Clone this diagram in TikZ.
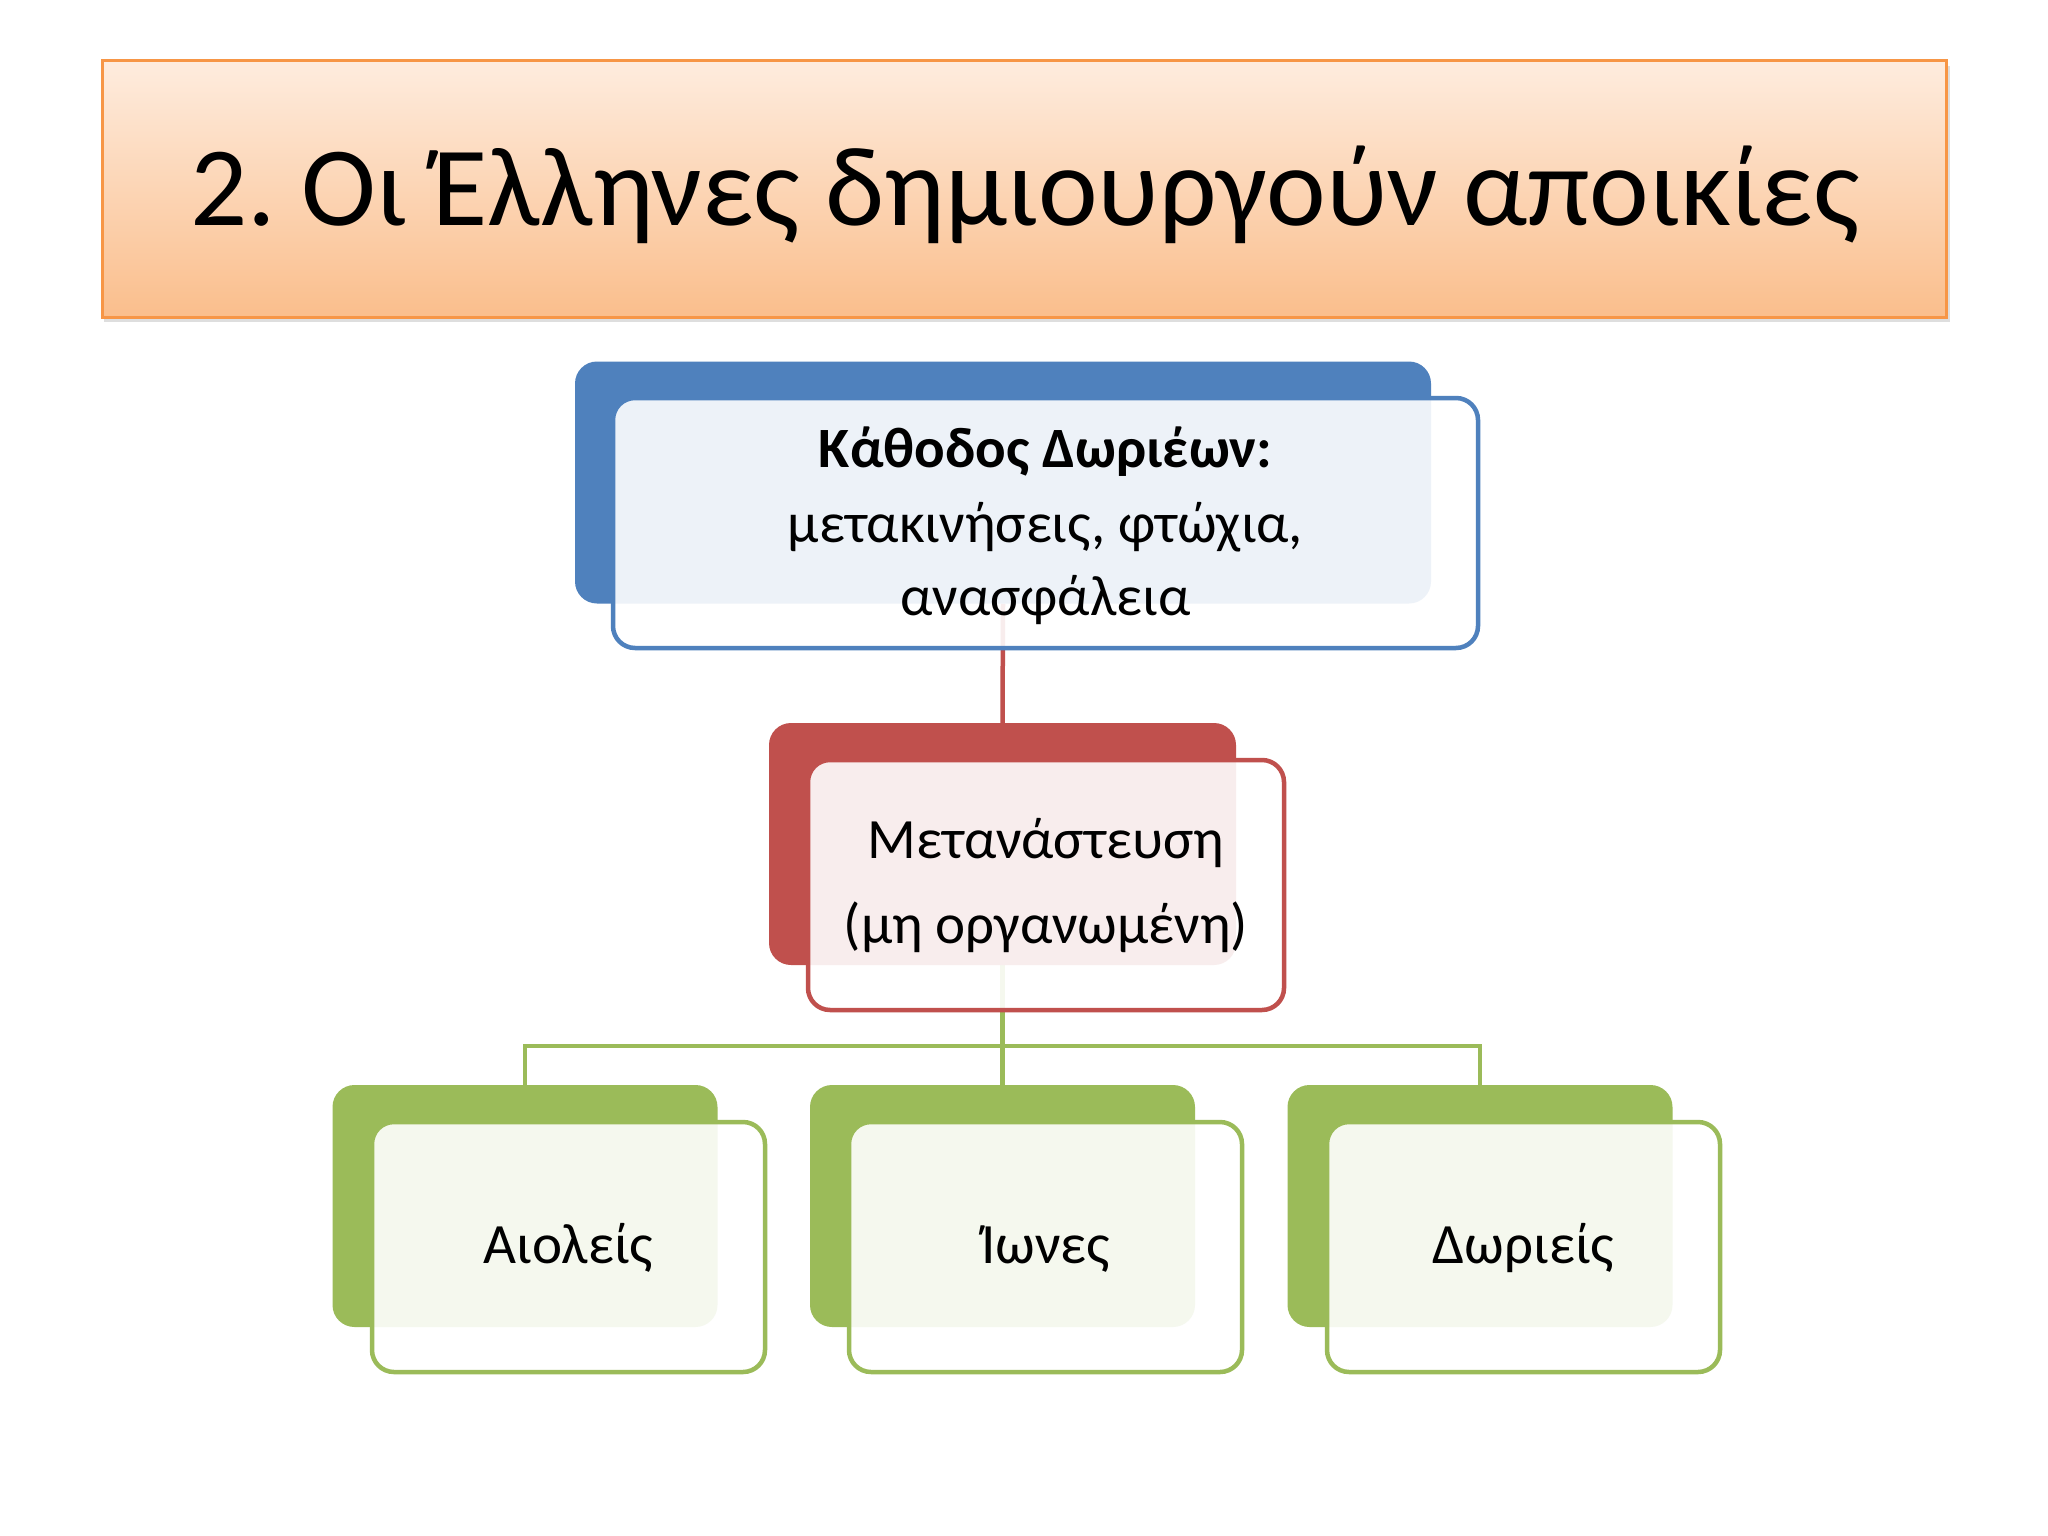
\documentclass[tikz,border=0pt]{standalone}
\usepackage{fontspec}
\setmainfont{Carlito}
\frenchspacing
\pgfdeclarelayer{canvas}
\pgfdeclarelayer{wires}
\pgfsetlayers{canvas,wires,main}
\definecolor{cblue}{RGB}{79,129,189}
\definecolor{cred}{RGB}{192,80,77}
\definecolor{cgreen}{RGB}{155,187,89}
\definecolor{corange}{RGB}{247,150,70}
\definecolor{ctop}{RGB}{254,236,222}
\definecolor{cbot}{RGB}{250,190,140}
\begin{document}
\begin{tikzpicture}[x=1pt,y=-1pt,
  backbox/.style={rectangle, rounded corners=22, inner sep=0, minimum width=#1, minimum height=242},
  frontbox/.style={rectangle, rounded corners=22, inner sep=0, minimum width=#1, minimum height=250,
     line width=4.5, fill=white, fill opacity=0.9},
  conn/.style={line width=4.5},
  lbl/.style={anchor=base, inner sep=0, font=\fontsize{57}{68}\selectfont},
  titlebox/.style={rectangle, inner sep=0, minimum width=1844, minimum height=256,
     draw=corange, line width=3, top color=ctop, bottom color=cbot}
]
\useasboundingbox (0,0) rectangle (2048,1536);
\begin{pgfonlayer}{canvas}
\fill[white] (0,0) rectangle (2048,1536);
\end{pgfonlayer}

% title
\fill[black!25, opacity=0.5] (104,66) rectangle (1950,322);
\node[titlebox] (title) at (1024,189) {};
\node[anchor=base, inner sep=0, font=\fontsize{113}{130}\selectfont] (titletext) at (1025,225) {2. Οι Έλληνες δημιουργούν αποικίες};

% back boxes
\node[backbox=856, fill=cblue] (bback) at (1003,482.5) {};
\node[backbox=467, fill=cred] (rback) at (1002.5,844) {};
\node[backbox=385, fill=cgreen] (g1back) at (525,1206) {};
\node[backbox=385, fill=cgreen] (g2back) at (1002.5,1206) {};
\node[backbox=385, fill=cgreen] (g3back) at (1480,1206) {};

% connectors (behind)
\coordinate (bus) at (0,1046);
\begin{pgfonlayer}{wires}
\draw[conn, cred] (bback.south) -- (rback.north);
\draw[conn, cgreen] (rback.south) -- (g2back.north);
\draw[conn, cgreen, line join=miter] (g1back.north) -- (g1back.north |- bus) -- (g3back.north |- bus) -- (g3back.north);
\end{pgfonlayer}

% front boxes
\node[frontbox=865, draw=cblue] (bfront) at (1045.5,523) {};
\node[frontbox=476, draw=cred] (rfront) at (1046,885) {};
\node[frontbox=393, draw=cgreen] (g1front) at (568.5,1247) {};
\node[frontbox=393, draw=cgreen] (g2front) at (1045.5,1247) {};
\node[frontbox=393, draw=cgreen] (g3front) at (1523.5,1247) {};

% texts
\node[lbl, font=\fontsize{57}{68}\selectfont\bfseries] (bt1) at (1045.5,467) {Κάθοδος Δωριέων:};
\node[lbl] (bt2) at (1045.5,542) {μετακινήσεις, φτώχια,};
\node[lbl] (bt3) at (1045.5,615) {ανασφάλεια};
\node[lbl] (rt1) at (1046,858) {Μετανάστευση};
\node[lbl] (rt2) at (1046,943) {(μη οργανωμένη)};
\node[lbl] (gt1) at (568.5,1263) {Αιολείς};
\node[lbl] (gt2) at (1045.5,1263) {Ίωνες};
\node[lbl] (gt3) at (1523.5,1263) {Δωριείς};
\end{tikzpicture}
\end{document}
